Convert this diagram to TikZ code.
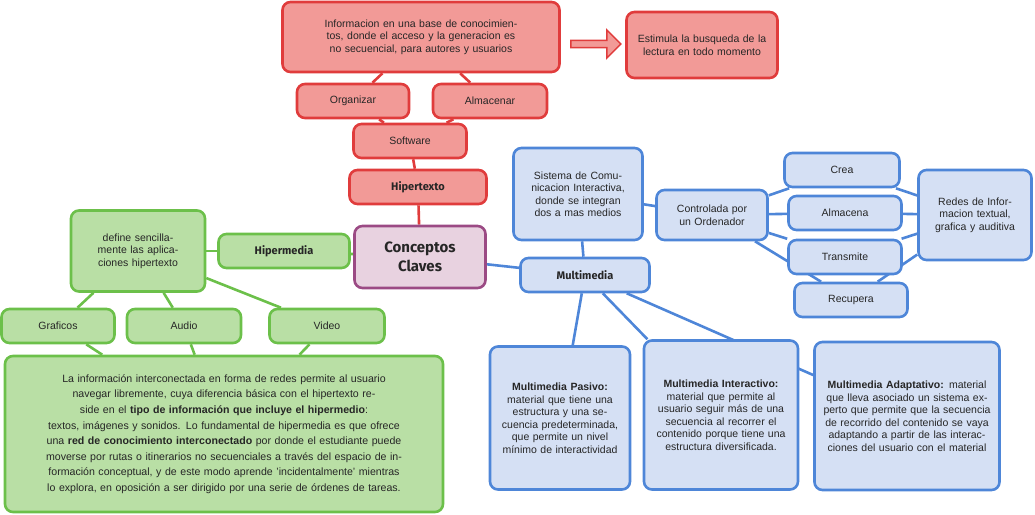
\documentclass[tikz,border=0pt]{standalone}
\usepackage{fontspec}
\setmainfont{Liberation Sans}
\newfontfamily\comic{Fira Sans}
\usetikzlibrary{shapes.arrows,backgrounds}
\definecolor{rfill}{HTML}{F29A97}\definecolor{rdraw}{HTML}{E03C3C}
\definecolor{gfill}{HTML}{B9DFA5}\definecolor{gdraw}{HTML}{6CC04A}
\definecolor{bfill}{HTML}{D5E0F4}\definecolor{bdraw}{HTML}{4E86D8}
\definecolor{pfill}{HTML}{E8D2E0}\definecolor{pdraw}{HTML}{9B4A84}
\tikzset{
 box/.style={rectangle,rounded corners=8pt,line width=2.6pt,align=center,inner sep=2pt,font=\fontsize{10.5}{12.5}\selectfont,text=black!85},
 rb/.style={box,fill=rfill,draw=rdraw},
 gb/.style={box,fill=gfill,draw=gdraw},
 bb/.style={box,fill=bfill,draw=bdraw},
 ttl/.style={font=\comic\bfseries\fontsize{11}{13}\selectfont},
 re/.style={rdraw,line width=2.6pt},
 ge/.style={gdraw,line width=2.6pt},
 be/.style={bdraw,line width=2.6pt},
}
\begin{document}
\begin{tikzpicture}[x=1pt,y=-1pt]
\useasboundingbox (0,0) rectangle (1035,514);
\node[rb,minimum width=277,minimum height=70,text width=265] (info) at (421,37) {Informacion en una base de conocimientos, donde el acceso y la generacion es no secuencial, para autores y usuarios};
\node[rb,minimum width=151,minimum height=66,text width=140] (est) at (702,45) {Estimula la busqueda de la lectura en todo momento};
\node[single arrow,fill=rfill,draw=rdraw,line width=1.5pt,minimum width=28,minimum height=50,single arrow head extend=5pt,inner sep=1pt] (arr) at (594,44) {};
\node[rb,minimum width=112,minimum height=34] (org) at (353,101) {Organizar};
\node[rb,minimum width=114,minimum height=34] (alm) at (490,101) {Almacenar};
\node[rb,minimum width=113,minimum height=34] (soft) at (410,141) {Software};
\node[rb,ttl,minimum width=137,minimum height=34] (hip) at (418,187) {Hipertexto};
\node[box,fill=pfill,draw=pdraw,font=\comic\bfseries\fontsize{15}{19}\selectfont,minimum width=131,minimum height=62] (cc) at (420,257) {Conceptos\\Claves};
\node[gb,ttl,minimum width=131,minimum height=34] (hm) at (284,251) {Hipermedia};
\node[gb,minimum width=134,minimum height=81,text width=110] (def) at (138,251) {define sencillamente las aplicaciones hipertexto};
\node[gb,minimum width=113,minimum height=34] (gra) at (58,326) {Graficos};
\node[gb,minimum width=114,minimum height=34] (aud) at (184,326) {Audio};
\node[gb,minimum width=115,minimum height=34] (vid) at (327,326) {Video};
\node[gb,minimum width=438,minimum height=156,text width=432,font=\fontsize{10.6}{15.6}\selectfont] (big) at (224,434) {La información interconectada en forma de redes permite al usuario navegar libremente, cuya diferencia básica con el hipertexto reside en el \textbf{tipo de información que incluye el hipermedio}:\\ textos, imágenes y sonidos. Lo fundamental de hipermedia es que ofrece una \textbf{red de conocimiento interconectado} por donde el estudiante puede moverse por rutas o itinerarios no secuenciales a través del espacio de información conceptual, y de este modo aprende 'incidentalmente' mientras lo explora, en oposición a ser dirigido por una serie de órdenes de tareas.};
\node[bb,ttl,minimum width=129,minimum height=34] (mm) at (585,275) {Multimedia};
\node[bb,minimum width=129,minimum height=92,text width=118] (sis) at (578,194) {Sistema de Comunicacion Interactiva, donde se integran dos a mas medios};
\node[bb,minimum width=111,minimum height=50,text width=104] (ctl) at (712,215) {Controlada por un Ordenador};
\node[bb,minimum width=115,minimum height=34] (crea) at (842,170) {Crea};
\node[bb,minimum width=113,minimum height=34] (alma) at (845,213) {Almacena};
\node[bb,minimum width=113,minimum height=34] (tra) at (845,257) {Transmite};
\node[bb,minimum width=113,minimum height=34] (rec) at (851,300) {Recupera};
\node[bb,minimum width=113,minimum height=90,text width=108] (red) at (975,215) {Redes de Informacion textual, grafica y auditiva};
\node[bb,minimum width=140,minimum height=143,text width=134] (p1) at (560,418) {\textbf{Multimedia Pasivo:} material que tiene una estructura y una secuencia predeterminada, que permite un nivel mínimo de interactividad};
\node[bb,minimum width=154,minimum height=149,text width=140] (p2) at (721,415) {\textbf{Multimedia Interactivo:} material que permite al usuario seguir más de una secuencia al recorrer el contenido porque tiene una estructura diversificada.};
\node[bb,minimum width=185,minimum height=148,text width=178] (p3) at (907,416) {\textbf{Multimedia Adaptativo:} material que lleva asociado un sistema experto que permite que la secuencia de recorrido del contenido se vaya adaptando a partir de las interacciones del usuario con el material};
\begin{scope}[on background layer]
\draw[re] (info) -- (org); \draw[re] (info) -- (alm);
\draw[re] (org) -- (soft); \draw[re] (alm) -- (soft);
\draw[re] (soft) -- (hip); \draw[re] (hip) -- (cc);
\draw[ge] (cc) -- (hm); \draw[ge] (hm) -- (def);
\foreach \n in {gra,aud,vid}{\draw[ge] (def) -- (\n); \draw[ge] (\n) -- (big);}
\draw[be] (cc) -- (mm); \draw[be] (mm) -- (sis); \draw[be] (sis) -- (ctl);
\foreach \n in {crea,alma,tra,rec}{\draw[be] (ctl) -- (\n); \draw[be] (\n) -- (red);}
\draw[be] (mm) -- (p1); \draw[be] (mm) -- (p2); \draw[be] (mm) -- (p3);
\end{scope}
\end{tikzpicture}
\end{document}
